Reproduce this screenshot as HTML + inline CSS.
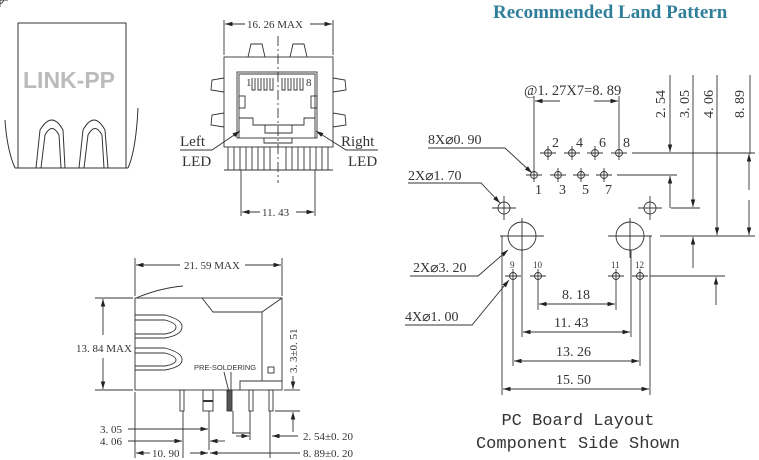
<!DOCTYPE html>
<html><head><meta charset="utf-8"><style>
html,body{margin:0;padding:0;background:#fff;}
svg{display:block;}
text{font-family:"Liberation Serif","Noto Serif CJK SC",serif;fill:#333;}
</style></head><body>
<svg width="759" height="460" viewBox="0 0 759 460" xmlns="http://www.w3.org/2000/svg">
<defs>
<marker id="a" viewBox="0 0 10 6" refX="10" refY="3" markerWidth="9" markerHeight="5" orient="auto-start-reverse"><path d="M0,0L10,3L0,6z" fill="#222"/></marker>
</defs>
<g stroke="#333" fill="none" stroke-width="1">
<polyline points="18,168 18,23 126,23 126,168"/>
<line x1="15" y1="168" x2="128" y2="168"/>
<path d="M5,120 Q7,150 15,168"/>
<path d="M138,108 Q136,150 128,168"/>
<path d="M36,168 L40,130 Q52,110 63,130 L65,168"/>
<path d="M41,168 L45,135 Q52,122 59,135 L61,168"/>
<path d="M79,168 L83,130 Q94,110 105,130 L108,168"/>
<path d="M84,168 L88,135 Q95,122 102,135 L104,168"/>
</g>
<text x="23" y="88" style="font-family:'Liberation Sans',sans-serif;font-weight:bold;font-size:23px;fill:#bbb">LINK-PP</text>

<g stroke="#333" fill="none" stroke-width="0.9">
<rect x="224" y="57" width="109" height="90"/>
<polyline points="248,57 251,44 262,44 265,57"/>
<polyline points="290,57 293,44 304,44 307,57"/>
<polyline points="224,78 212,80 211,90 224,92"/>
<polyline points="224,113 212,115 211,125 224,127"/>
<polyline points="333,78 345,80 346,90 333,92"/>
<polyline points="333,113 345,115 346,125 333,127"/>
<rect x="237" y="72" width="80" height="66"/>
<polyline points="239,138 239,74 315,74 315,138"/>
<rect x="239" y="96" width="6" height="12"/><rect x="311" y="96" width="6" height="12"/>
<polyline points="239,118 253,118 253,125 304,125 304,118 315,118"/>
<polyline points="253,125 265,125 265,133 292,133 292,125"/>
<path d="M264,138 L264,143 L292,143 L292,138"/>
<path d="M252,78 v12 h3 v-12 M258,78 v12 h3 v-12 M264,78 v12 h3 v-12 M270,78 v12 h3 v-12 M282,78 v12 h3 v-12 M288,78 v12 h3 v-12 M294,78 v12 h3 v-12 M300,78 v12 h3 v-12"/>
<path d="M228,147 v23 M234,147 v23 M240,147 v23 M246,147 v23 M252,147 v23 M258,147 v23 M264,147 v23 M270,147 v23 M286,147 v23 M292,147 v23 M298,147 v23 M304,147 v23 M310,147 v23 M316,147 v23 M322,147 v23 M328,147 v23"/>
<line x1="224" y1="170" x2="333" y2="170"/>
<line x1="278" y1="36" x2="278" y2="183" stroke-dasharray="10,3,2,3"/>
<line x1="224" y1="20" x2="224" y2="55"/><line x1="333" y1="20" x2="333" y2="55"/>
<line x1="225" y1="24" x2="245" y2="24" marker-start="url(#a)"/><line x1="310" y1="24" x2="332" y2="24" marker-end="url(#a)"/>
<line x1="241" y1="170" x2="241" y2="216"/><line x1="315" y1="170" x2="315" y2="216"/>
<line x1="242" y1="212" x2="260" y2="212" marker-start="url(#a)"/><line x1="296" y1="212" x2="314" y2="212" marker-end="url(#a)"/>
<polyline points="180,150 212,150 240,131" marker-end="url(#a)"/>
<polyline points="378,150 346,150 316,131" marker-end="url(#a)"/>
</g>
<text x="247" y="28" font-size="11">16. 26 MAX</text>
<text x="262" y="216" font-size="11">11. 43</text>
<text x="246" y="86" font-size="11">1</text><text x="306" y="86" font-size="11">8</text>
<text x="180" y="146" font-size="15">Left</text><text x="182" y="166" font-size="15">LED</text>
<text x="341" y="146" font-size="15">Right</text><text x="348" y="166" font-size="15">LED</text>

<g stroke="#333" fill="none" stroke-width="0.9">
<rect x="135" y="298" width="147" height="92"/>
<path d="M136,298 Q160,288 183,286"/>
<polyline points="202,298 213,312 262,312 282,298"/>
<line x1="262" y1="312" x2="262" y2="381"/>
<polyline points="240,390 240,381 282,381"/>
<rect x="268" y="367" width="6" height="6"/>
<path d="M135,315 H165 Q183,320 182,327 Q182,335 165,338 H135"/>
<path d="M135,320 H165 Q176,323 176,327 Q176,332 165,334 H135"/>
<path d="M135,348 H165 Q183,353 182,360 Q182,367 165,370 H135"/>
<path d="M135,353 H165 Q176,356 176,360 Q176,364 165,366 H135"/>
<rect x="180" y="390" width="4" height="21"/>
<rect x="203" y="390" width="10" height="21"/><line x1="203" y1="401" x2="213" y2="401" stroke-width="2"/>
<rect x="227" y="390" width="5" height="21" fill="#555"/>
<rect x="249" y="390" width="4" height="21"/><rect x="269" y="390" width="4" height="21"/>
<line x1="224" y1="372" x2="229" y2="392"/><line x1="231" y1="372" x2="231" y2="390"/>
<line x1="135" y1="258" x2="135" y2="296"/><line x1="282" y1="258" x2="282" y2="296"/>
<line x1="136" y1="265" x2="180" y2="265" marker-start="url(#a)"/><line x1="245" y1="265" x2="281" y2="265" marker-end="url(#a)"/>
<line x1="95" y1="298" x2="133" y2="298"/><line x1="95" y1="390" x2="133" y2="390"/>
<line x1="103" y1="299" x2="103" y2="335" marker-start="url(#a)"/><line x1="103" y1="358" x2="103" y2="389" marker-end="url(#a)"/>
<line x1="284" y1="390" x2="300" y2="390"/><line x1="275" y1="411" x2="300" y2="411"/>
<line x1="293" y1="376" x2="293" y2="389" marker-end="url(#a)"/>
<line x1="293" y1="432" x2="293" y2="412" marker-end="url(#a)"/>
<line x1="183" y1="411" x2="183" y2="458"/><line x1="209" y1="411" x2="209" y2="450"/>
<line x1="135" y1="392" x2="135" y2="458"/><line x1="250" y1="411" x2="250" y2="440"/>
<line x1="233" y1="411" x2="233" y2="433"/><line x1="270" y1="411" x2="270" y2="458"/>
<line x1="128" y1="429" x2="208" y2="429" marker-end="url(#a)"/>
<line x1="128" y1="441" x2="182" y2="441" marker-end="url(#a)"/>
<line x1="232" y1="433" x2="250" y2="433"/><line x1="236" y1="436" x2="249" y2="436" marker-end="url(#a)"/>
<line x1="210" y1="441" x2="225" y2="441" marker-start="url(#a)"/>
<line x1="298" y1="436" x2="272" y2="436" marker-end="url(#a)"/>
<line x1="136" y1="453" x2="150" y2="453" marker-start="url(#a)"/><line x1="190" y1="453" x2="208" y2="453" marker-end="url(#a)"/>
<line x1="210" y1="453" x2="300" y2="453" marker-start="url(#a)"/>
</g>
<text x="184" y="269" font-size="11">21. 59 MAX</text>
<text x="76" y="352" font-size="11">13. 84 MAX</text>
<text x="194" y="370" style="font-family:'Liberation Sans',sans-serif;font-size:7.5px">PRE-SOLDERING</text>
<text transform="translate(297,373) rotate(-90)" font-size="11">3. 3±0. 51</text>
<text x="100" y="433" font-size="11">3. 05</text><text x="100" y="445" font-size="11">4. 06</text>
<text x="152" y="457" font-size="11">10. 90</text>
<text x="303" y="440" font-size="11">2. 54±0. 20</text><text x="303" y="457" font-size="11">8. 89±0. 20</text>

<text x="493" y="18" style="font-family:'Liberation Serif',serif;font-weight:bold;font-size:19px;fill:#2f7f9b">Recommended Land Pattern</text>
<g stroke="#333" fill="none" stroke-width="0.9">
<g id="p"><circle r="3.5"/><path d="M-8,0H8M0,-7V7"/></g>
<use href="#p" x="548" y="153"/><use href="#p" x="572" y="153"/><use href="#p" x="595" y="153"/><use href="#p" x="619" y="153"/>
<use href="#p" x="534" y="175"/><use href="#p" x="558" y="175"/><use href="#p" x="581" y="175"/><use href="#p" x="604" y="175"/>
<use href="#p" x="513" y="276"/><use href="#p" x="538" y="276"/><use href="#p" x="616" y="276"/><use href="#p" x="640" y="276"/>
<circle cx="504" cy="208" r="6"/><path d="M492,208h24M504,196v24"/>
<circle cx="650" cy="208" r="6"/><path d="M638,208h24M650,196v24"/>
<circle cx="522" cy="236" r="14"/><path d="M500,236h44M522,218v40"/>
<circle cx="630" cy="236" r="14"/><path d="M608,236h44M630,218v40"/>
<line x1="534" y1="96" x2="534" y2="168"/><line x1="619" y1="96" x2="619" y2="146"/>
<line x1="535" y1="101" x2="560" y2="101" marker-start="url(#a)"/><line x1="594" y1="101" x2="618" y2="101" marker-end="url(#a)"/>
<line x1="632" y1="153" x2="755" y2="153"/><line x1="617" y1="175" x2="677" y2="175"/>
<line x1="671" y1="208" x2="700" y2="208"/><line x1="660" y1="236" x2="755" y2="236"/>
<line x1="650" y1="276" x2="725" y2="276"/>
<line x1="670" y1="75" x2="670" y2="152" marker-end="url(#a)"/>
<line x1="670" y1="208" x2="670" y2="176" marker-end="url(#a)"/>
<line x1="693" y1="75" x2="693" y2="207" marker-end="url(#a)"/>
<line x1="717" y1="75" x2="717" y2="235" marker-end="url(#a)"/>
<line x1="750" y1="75" x2="750" y2="154"/>
<line x1="749" y1="190" x2="749" y2="154" marker-end="url(#a)"/>
<line x1="749" y1="200" x2="749" y2="235" marker-end="url(#a)"/>
<line x1="693" y1="268" x2="693" y2="237" marker-end="url(#a)"/>
<line x1="716" y1="305" x2="716" y2="277" marker-end="url(#a)"/>
<line x1="513" y1="283" x2="513" y2="366"/><line x1="640" y1="283" x2="640" y2="366"/>
<line x1="538" y1="283" x2="538" y2="310"/><line x1="616" y1="283" x2="616" y2="310"/>
<line x1="522" y1="250" x2="522" y2="337"/><line x1="631" y1="250" x2="631" y2="337"/>
<line x1="502" y1="236" x2="502" y2="395"/><line x1="650" y1="236" x2="650" y2="395"/>
<line x1="539" y1="304" x2="615" y2="304" marker-start="url(#a)" marker-end="url(#a)"/>
<line x1="523" y1="332" x2="630" y2="332" marker-start="url(#a)" marker-end="url(#a)"/>
<line x1="514" y1="361" x2="639" y2="361" marker-start="url(#a)" marker-end="url(#a)"/>
<line x1="503" y1="389" x2="649" y2="389" marker-start="url(#a)" marker-end="url(#a)"/>
<polyline points="428,148 505,148 532,173" marker-end="url(#a)"/>
<polyline points="408,183 481,183 500,203" marker-end="url(#a)"/>
<polyline points="410,276 478,276 508,250" marker-end="url(#a)"/>
<polyline points="405,325 472,325 509,280" marker-end="url(#a)"/>
</g>
<text x="524" y="95" font-size="14.5">@1. 27X7=8. 89</text>
<text transform="translate(665,118) rotate(-90)" font-size="14">2. 54</text>
<text transform="translate(689,118) rotate(-90)" font-size="14">3. 05</text>
<text transform="translate(713,118) rotate(-90)" font-size="14">4. 06</text>
<text transform="translate(744,118) rotate(-90)" font-size="14">8. 89</text>
<text x="428" y="144" font-size="14">8X⌀0. 90</text>
<text x="408" y="180" font-size="14">2X⌀1. 70</text>
<text x="413" y="272" font-size="14">2X⌀3. 20</text>
<text x="405" y="321" font-size="14">4X⌀1. 00</text>
<g font-size="14"><text x="552" y="147">2</text><text x="576" y="147">4</text><text x="599" y="147">6</text><text x="623" y="147">8</text>
<text x="535" y="194">1</text><text x="559" y="194">3</text><text x="582" y="194">5</text><text x="605" y="194">7</text></g>
<g font-size="9"><text x="510" y="268">9</text><text x="533" y="268">10</text><text x="611" y="268">11</text><text x="635" y="268">12</text></g>
<g font-size="14"><text x="562" y="299">8. 18</text><text x="554" y="327">11. 43</text><text x="556" y="356">13. 26</text><text x="556" y="384">15. 50</text></g>
<text x="578" y="425" font-size="17" text-anchor="middle" style="font-family:'Liberation Mono',monospace">PC Board Layout</text>
<text x="578" y="448" font-size="17" text-anchor="middle" style="font-family:'Liberation Mono',monospace">Component Side Shown</text>
</svg>
</body></html>
